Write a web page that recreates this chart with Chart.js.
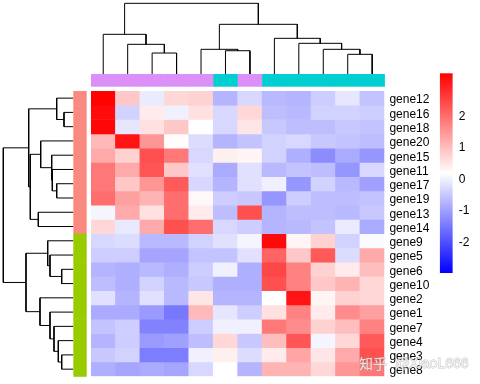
<!DOCTYPE html>
<html>
<head>
<meta charset="utf-8">
<script src="https://cdn.jsdelivr.net/npm/chart.js@4.4.1/dist/chart.umd.min.js"></script>
<style>
  html, body { margin: 0; padding: 0; background: #fff; }
</style>
</head>
<body>
<canvas id="heatmap" width="480" height="384"></canvas>
<script>
// row order as shown (after clustering)
const genes = ['gene12', 'gene16', 'gene18', 'gene20', 'gene15', 'gene11', 'gene17', 'gene19', 'gene13', 'gene14',
               'gene9', 'gene5', 'gene6', 'gene10', 'gene2', 'gene1', 'gene7', 'gene4', 'gene3', 'gene8'];
const samples = ['S1', 'S2', 'S3', 'S4', 'S5', 'S6', 'S7', 'S8', 'S9', 'S10', 'S11', 'S12'];

const gene12 = [3.30, 0.85, -0.08, 0.66, 0.73, -0.77, -0.33, -0.71, -0.77, -0.46, -0.15, -0.58];
const gene16 = [3.20, -0.40, 0.41, -0.02, 0.54, -0.33, 0.66, -0.64, -0.71, -0.40, -0.40, -0.46];
const gene18 = [3.25, -0.15, 0.54, 0.85, 0.17, -0.33, 0.48, -0.52, -0.64, -0.64, -0.52, -0.58];
const gene20 = [1.04, 3.10, 1.47, 0.20, -0.27, -0.77, -0.58, -0.40, -0.33, -0.52, -0.58, -0.64];
const gene15 = [1.22, 0.73, 2.34, 1.85, -0.33, 0.35, 0.29, -0.40, -0.83, -1.27, -0.89, -1.14];
const gene11 = [1.85, 1.22, 2.28, 0.85, -0.21, -0.89, -0.21, -0.71, -0.58, -0.64, -1.14, -0.33];
const gene17 = [1.85, 0.85, 1.47, 2.22, -0.33, -0.77, -0.21, -0.02, -1.14, -0.40, -0.71, -1.02];
const gene19 = [1.97, 1.35, 1.10, 1.97, 0.25, -0.46, -0.52, -1.14, -0.46, -0.64, -0.64, -0.58];
const gene13 = [0.04, 1.22, 0.54, 1.97, 0.41, -0.64, 2.34, -0.77, -0.64, -0.64, -0.71, -0.52];
const gene14 = [0.66, -0.12, 1.22, 2.34, 1.97, -0.33, -0.46, -0.77, -0.71, -0.58, -0.08, -0.89];
const gene9  = [-0.33, -0.27, -0.71, -0.71, -0.40, -0.21, 0.04, 3.22, 0.29, 0.73, -0.40, 0.10];
const gene5  = [-0.46, -0.46, -0.96, -0.96, -0.58, -0.58, -0.21, 2.10, 0.85, 2.22, -0.27, 1.22];
const gene6  = [-0.77, -0.83, -0.71, -0.83, -0.46, -0.02, -0.83, 2.47, 1.72, 0.73, 0.41, 0.97];
const gene10 = [-0.64, -0.83, -0.40, -0.71, -0.52, -0.83, -0.83, 2.34, 1.72, 0.85, 1.10, 0.66];
const gene2  = [-0.21, -0.77, -0.21, -0.71, 0.48, -0.77, -0.77, 0.17, 3.10, 0.29, 0.73, 0.66];
const gene1  = [-0.89, -0.89, -1.08, -1.52, 1.04, -0.15, -0.46, 0.54, 1.72, 0.41, 1.60, 1.35];
const gene7  = [-0.58, -0.46, -1.39, -1.39, -0.46, -0.02, -0.02, 1.85, 1.60, 0.73, 0.97, 1.72];
const gene4  = [-0.77, -0.46, -1.08, -1.02, -0.64, 0.66, -0.52, 0.97, 2.28, 0.04, 0.66, 2.22];
const gene3  = [-0.52, -0.40, -1.45, -1.45, -0.02, 0.35, -0.27, 0.41, 1.29, 0.48, 1.22, 2.34];
const gene8  = [-0.83, -0.96, -0.89, -0.96, -0.33, 0.17, -0.77, 1.10, 1.10, 0.66, 1.47, 1.85];
const values = [gene12, gene16, gene18, gene20, gene15, gene11, gene17, gene19, gene13, gene14,
                gene9, gene5, gene6, gene10, gene2, gene1, gene7, gene4, gene3, gene8];

const colGroups = ['Group1', 'Group1', 'Group1', 'Group1', 'Group1', 'Group2',
                   'Group1', 'Group2', 'Group2', 'Group2', 'Group2', 'Group2'];
const rowGroups = ['Cluster1', 'Cluster1', 'Cluster1', 'Cluster1', 'Cluster1', 'Cluster1', 'Cluster1', 'Cluster1', 'Cluster1', 'Cluster1',
                   'Cluster2', 'Cluster2', 'Cluster2', 'Cluster2', 'Cluster2', 'Cluster2', 'Cluster2', 'Cluster2', 'Cluster2', 'Cluster2'];

// hclust style merges: negative = leaf (display position), positive = earlier merge
const colMerge = [[-11, -12], [-3, -4], [-6, -7], [-5, 3], [-10, 1], [-2, 2], [-9, 5], [-8, 7], [-1, 6], [4, 8], [9, 10]];
const colHeight = [1.97, 2.10, 2.33, 2.47, 2.47, 2.97, 3.07, 3.57, 3.97, 4.97, 7.07];
const rowMerge = [[-2, -3], [-13, -14], [-19, -20], [-18, 3], [-1, 1], [-7, -8], [-17, 4], [-6, 6], [-5, 8], [-12, 2],
                  [-16, 7], [-11, 10], [-4, 9], [-15, 11], [-9, -10], [13, 15], [5, 16], [12, 14], [17, 18]];
const rowHeight = [0.93, 1.16, 1.16, 1.50, 1.66, 1.66, 1.93, 2.10, 2.16, 2.33,
                   2.33, 2.56, 3.26, 3.33, 3.50, 4.30, 4.46, 4.73, 7.00];

const legendTicks = [2, 1, 0, -1, -2];
const scaleMin = -3.01;
const scaleMax = 3.34;

const groupColors = { Group1: '#DA90F6', Group2: '#00CED1', Cluster1: '#FA8A80', Cluster2: '#99CC00' };
const FONT = 'Liberation Sans, Arial, sans-serif';

function heatColor(v) {
    let t = (v - scaleMin) / (scaleMax - scaleMin);
    t = Math.max(0, Math.min(1, t));
    if (t < 0.5) {
        const c = Math.round(255 * t / 0.5);
        return `rgb(${c},${c},255)`;
    }
    const c = Math.round(255 * (1 - (t - 0.5) / 0.5));
    return `rgb(255,${c},${c})`;
}

// turn merges into line points (with null breaks between links)
function dendroPoints(merge, height, toXY) {
    const pos = [], hgt = [], pts = [];
    const get = k => k < 0 ? [-k - 0.5, 0] : [pos[k - 1], hgt[k - 1]];
    merge.forEach(([a, b], k) => {
        const [pa, ha] = get(a);
        const [pb, hb] = get(b);
        const h = height[k];
        pts.push(toXY(pa, ha), toXY(pa, h), toXY(pb, h), toXY(pb, hb), { x: null, y: null });
        pos.push((pa + pb) / 2);
        hgt.push(h);
    });
    return pts;
}

// layout in data units (x: columns, y: rows)
const colLeafY = -1.19, colStep = 0.701;
const rowLeafX = -0.724, rowStep = 0.409;

const cellSets = values.map((row, i) => ({
    type: 'bar',
    label: genes[i],
    data: row.map((v, j) => ({ x: j + 0.5, y: [i, i + 1] })),
    backgroundColor: row.map(heatColor),
    borderWidth: 0,
    barPercentage: 1,
    categoryPercentage: 1,
    grouped: false,
    order: 2
}));

const lineStyle = {
    type: 'line', borderColor: '#000', borderWidth: 1, pointRadius: 0,
    fill: false, clip: false, spanGaps: false, tension: 0, order: 0
};
const colTree = Object.assign({ label: 'col tree', data: dendroPoints(colMerge, colHeight, (p, h) => ({ x: p, y: colLeafY - h * colStep })) }, lineStyle);
const rowTree = Object.assign({ label: 'row tree', data: dendroPoints(rowMerge, rowHeight, (p, h) => ({ x: rowLeafX - h * rowStep, y: p })) }, lineStyle);

const extras = {
    id: 'extras',
    afterDatasetsDraw(chart) {
        const { ctx } = chart;
        const xs = chart.scales.x, ys = chart.scales.y;
        ctx.save();
        // column annotation
        colGroups.forEach((g, j) => {
            const x0 = xs.getPixelForValue(j), x1 = xs.getPixelForValue(j + 1);
            const y0 = ys.getPixelForValue(-1.19), y1 = ys.getPixelForValue(-0.30);
            ctx.fillStyle = groupColors[g];
            ctx.fillRect(x0, y0, x1 - x0 + 0.5, y1 - y0);
        });
        // row annotation
        rowGroups.forEach((g, i) => {
            const x0 = xs.getPixelForValue(-0.724), x1 = xs.getPixelForValue(-0.176);
            const y0 = ys.getPixelForValue(i), y1 = ys.getPixelForValue(i + 1);
            ctx.fillStyle = groupColors[g];
            ctx.fillRect(x0, y0, x1 - x0, y1 - y0 + 0.5);
        });
        // colour legend
        const rowOf = v => -1.24 + (scaleMax - v) / (scaleMax - scaleMin) * 14.0;
        const bx0 = xs.getPixelForValue(14.27), bx1 = xs.getPixelForValue(14.79);
        const by0 = ys.getPixelForValue(rowOf(scaleMax)), by1 = ys.getPixelForValue(rowOf(scaleMin));
        const grad = ctx.createLinearGradient(0, by0, 0, by1);
        grad.addColorStop(0, 'rgb(255,0,0)');
        grad.addColorStop(0.5, 'rgb(255,255,255)');
        grad.addColorStop(1, 'rgb(0,0,255)');
        ctx.fillStyle = grad;
        ctx.fillRect(bx0, by0, bx1 - bx0, by1 - by0);
        ctx.fillStyle = '#000';
        ctx.font = `12px ${FONT}`;
        ctx.textAlign = 'left';
        ctx.textBaseline = 'middle';
        legendTicks.forEach(t => {
            ctx.fillText(String(t), xs.getPixelForValue(15.04), ys.getPixelForValue(rowOf(t)) + 1);
        });
        ctx.restore();
    },
    afterDraw(chart) {
        // watermark
        const { ctx } = chart;
        const xs = chart.scales.x, ys = chart.scales.y;
        const y = ys.getPixelForValue(19.15);
        ctx.save();
        ctx.textAlign = 'left';
        ctx.textBaseline = 'middle';
        ctx.lineWidth = 1;
        ctx.strokeStyle = 'rgba(150,150,150,0.55)';
        ctx.fillStyle = 'rgba(255,255,255,0.75)';
        ctx.font = `14px "Noto Sans CJK SC", sans-serif`;
        ctx.strokeText('知乎', xs.getPixelForValue(10.96), y);
        ctx.fillText('知乎', xs.getPixelForValue(10.96), y);
        ctx.font = `14px ${FONT}`;
        ctx.strokeText('@XiaoL666', xs.getPixelForValue(12.44), y);
        ctx.fillText('@XiaoL666', xs.getPixelForValue(12.44), y);
        ctx.restore();
    }
};

new Chart(document.getElementById('heatmap'), {
    type: 'bar',
    data: { datasets: [...cellSets, colTree, rowTree] },
    options: {
        responsive: false,
        animation: false,
        events: [],
        layout: { padding: { left: 91, top: 91, right: 0, bottom: 7.7 } },
        plugins: { legend: { display: false }, tooltip: { enabled: false } },
        scales: {
            x: { type: 'linear', min: 0, max: 12, offset: false, display: false },
            y: {
                type: 'linear', position: 'right', reverse: true, min: 0, max: 20,
                grid: { display: false, drawTicks: false },
                border: { display: false },
                afterBuildTicks: s => { s.ticks = genes.map((g, i) => ({ value: i + 0.5 })); },
                afterFit: s => { s.width = 95.6; s.paddingTop = 0; s.paddingBottom = 0; },
                ticks: {
                    autoSkip: false,
                    padding: 5,
                    labelOffset: 2,
                    color: '#000',
                    font: { family: FONT, size: 12 },
                    callback: (v, i) => genes[i]
                }
            }
        }
    },
    plugins: [extras]
});
</script>
</body>
</html>
